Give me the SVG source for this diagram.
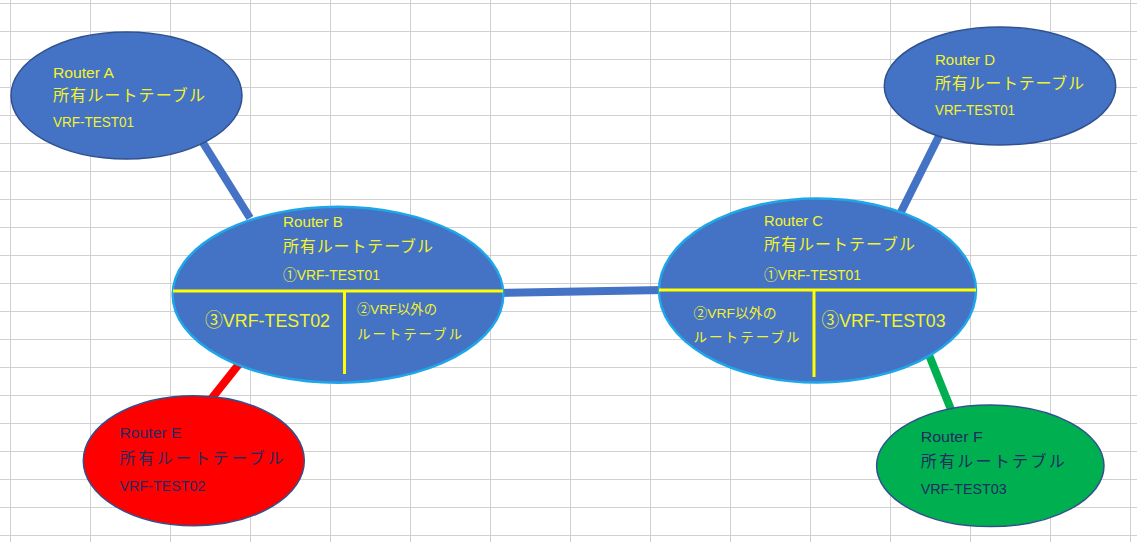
<svg xmlns="http://www.w3.org/2000/svg" width="1137" height="542" viewBox="0 0 1137 542">
<style>
.grid line{stroke:#d0d0d0;stroke-width:1}
.conn line{stroke-width:8;stroke-linecap:butt}
.blue{stroke:#4472c4}
.red{stroke:#ff0000}
.green{stroke:#00b050}
.nodeS{fill:#4472c4;stroke:#2f528f;stroke-width:1.5}
.nodeB{fill:#4472c4;stroke:#1fa6e8;stroke-width:2.5}
.nodeE{fill:#ff0000;stroke:#2f528f;stroke-width:1.5}
.nodeF{fill:#00b050;stroke:#2f528f;stroke-width:1.5}
.div{stroke:#ffff00;stroke-width:3}
text{font-family:"Liberation Sans","Noto Sans CJK JP",sans-serif}
.y{fill:#f4f42a}
.d{fill:#1f2c60}
.s{font-size:15px}
.j{font-size:16px}
.b{font-size:19px}
.m{font-size:13.5px}
</style>
<rect x="0" y="0" width="1137" height="542" fill="#ffffff"/>
<g class="grid">
<line x1="10.5" y1="0" x2="10.5" y2="542"/>
<line x1="90.5" y1="0" x2="90.5" y2="542"/>
<line x1="170.5" y1="0" x2="170.5" y2="542"/>
<line x1="250.5" y1="0" x2="250.5" y2="542"/>
<line x1="330.5" y1="0" x2="330.5" y2="542"/>
<line x1="410.5" y1="0" x2="410.5" y2="542"/>
<line x1="490.5" y1="0" x2="490.5" y2="542"/>
<line x1="570.5" y1="0" x2="570.5" y2="542"/>
<line x1="650.5" y1="0" x2="650.5" y2="542"/>
<line x1="730.5" y1="0" x2="730.5" y2="542"/>
<line x1="810.5" y1="0" x2="810.5" y2="542"/>
<line x1="890.5" y1="0" x2="890.5" y2="542"/>
<line x1="970.5" y1="0" x2="970.5" y2="542"/>
<line x1="1050.5" y1="0" x2="1050.5" y2="542"/>
<line x1="1130.5" y1="0" x2="1130.5" y2="542"/>
<line x1="0" y1="3.5" x2="1137" y2="3.5"/>
<line x1="0" y1="31.5" x2="1137" y2="31.5"/>
<line x1="0" y1="59.5" x2="1137" y2="59.5"/>
<line x1="0" y1="87.5" x2="1137" y2="87.5"/>
<line x1="0" y1="115.5" x2="1137" y2="115.5"/>
<line x1="0" y1="143.5" x2="1137" y2="143.5"/>
<line x1="0" y1="171.5" x2="1137" y2="171.5"/>
<line x1="0" y1="199.5" x2="1137" y2="199.5"/>
<line x1="0" y1="227.5" x2="1137" y2="227.5"/>
<line x1="0" y1="255.5" x2="1137" y2="255.5"/>
<line x1="0" y1="283.5" x2="1137" y2="283.5"/>
<line x1="0" y1="311.5" x2="1137" y2="311.5"/>
<line x1="0" y1="339.5" x2="1137" y2="339.5"/>
<line x1="0" y1="367.5" x2="1137" y2="367.5"/>
<line x1="0" y1="395.5" x2="1137" y2="395.5"/>
<line x1="0" y1="423.5" x2="1137" y2="423.5"/>
<line x1="0" y1="451.5" x2="1137" y2="451.5"/>
<line x1="0" y1="479.5" x2="1137" y2="479.5"/>
<line x1="0" y1="507.5" x2="1137" y2="507.5"/>
<line x1="0" y1="535.5" x2="1137" y2="535.5"/>
</g>
<g id="connectors" class="conn">
<line class="blue" x1="200" y1="138" x2="250" y2="218"/>
<line class="blue" x1="498" y1="293" x2="664" y2="290"/>
<line class="blue" x1="941" y1="132" x2="897" y2="220"/>
<line class="red" x1="247" y1="354" x2="208" y2="403"/>
<line class="green" x1="925" y1="345" x2="952" y2="412"/>
</g>
<g id="routerA">
<ellipse class="nodeS" cx="126.5" cy="95.5" rx="115.5" ry="63.5"/>
<text class="y s" x="53" y="77.5" textLength="61" lengthAdjust="spacingAndGlyphs">Router A</text>
<text class="y j" x="53" y="101" textLength="152" lengthAdjust="spacing">所有ルートテーブル</text>
<text class="y s" x="53" y="127" textLength="81" lengthAdjust="spacingAndGlyphs">VRF-TEST01</text>
</g>
<g id="routerB">
<ellipse class="nodeB" cx="338" cy="294.7" rx="165.3" ry="88"/>
<line class="div" x1="173" y1="291" x2="503" y2="291"/>
<line class="div" x1="344.5" y1="291" x2="344.5" y2="374"/>
<text class="y s" x="283" y="227" textLength="60" lengthAdjust="spacingAndGlyphs">Router B</text>
<text class="y j" x="283" y="251.8" textLength="150" lengthAdjust="spacing">所有ルートテーブル</text>
<text class="y s" x="283" y="279.5" textLength="97" lengthAdjust="spacingAndGlyphs">①VRF-TEST01</text>
<text class="y b" x="205" y="327" textLength="125" lengthAdjust="spacingAndGlyphs">③VRF-TEST02</text>
<text class="y m" x="357" y="313.5" textLength="80" lengthAdjust="spacingAndGlyphs">②VRF以外の</text>
<text class="y m" x="357" y="338.5" textLength="105" lengthAdjust="spacing">ルートテーブル</text>
</g>
<g id="routerC">
<ellipse class="nodeB" cx="817.5" cy="290.5" rx="158.5" ry="92"/>
<line class="div" x1="659" y1="290" x2="976" y2="290"/>
<line class="div" x1="814" y1="290" x2="814" y2="377"/>
<text class="y s" x="764" y="226" textLength="59" lengthAdjust="spacingAndGlyphs">Router C</text>
<text class="y j" x="764" y="250" textLength="151" lengthAdjust="spacing">所有ルートテーブル</text>
<text class="y s" x="764" y="279.5" textLength="97" lengthAdjust="spacingAndGlyphs">①VRF-TEST01</text>
<text class="y m" x="693.5" y="318" textLength="83" lengthAdjust="spacingAndGlyphs">②VRF以外の</text>
<text class="y m" x="693.5" y="342" textLength="106" lengthAdjust="spacing">ルートテーブル</text>
<text class="y b" x="821.5" y="327" textLength="124" lengthAdjust="spacingAndGlyphs">③VRF-TEST03</text>
</g>
<g id="routerD">
<ellipse class="nodeS" cx="1000" cy="86" rx="115.7" ry="59"/>
<text class="y s" x="935" y="65" textLength="60" lengthAdjust="spacingAndGlyphs">Router D</text>
<text class="y j" x="935" y="89" textLength="149" lengthAdjust="spacing">所有ルートテーブル</text>
<text class="y s" x="935" y="114.5" textLength="80" lengthAdjust="spacingAndGlyphs">VRF-TEST01</text>
</g>
<g id="routerE">
<ellipse class="nodeE" cx="193.8" cy="460.7" rx="110.5" ry="65"/>
<text class="d s" x="119.5" y="437.5" textLength="62" lengthAdjust="spacingAndGlyphs">Router E</text>
<text class="d j" x="119.5" y="463.5" textLength="164" lengthAdjust="spacing">所有ルートテーブル</text>
<text class="d s" x="119.5" y="491" textLength="86" lengthAdjust="spacingAndGlyphs">VRF-TEST02</text>
</g>
<g id="routerF">
<ellipse class="nodeF" cx="990.3" cy="465.8" rx="113.7" ry="60.8"/>
<text class="d s" x="920.7" y="441.7" textLength="62" lengthAdjust="spacingAndGlyphs">Router F</text>
<text class="d j" x="920.7" y="466.8" textLength="144" lengthAdjust="spacing">所有ルートテブル</text>
<text class="d s" x="920.7" y="494" textLength="86" lengthAdjust="spacingAndGlyphs">VRF-TEST03</text>
</g>
</svg>
